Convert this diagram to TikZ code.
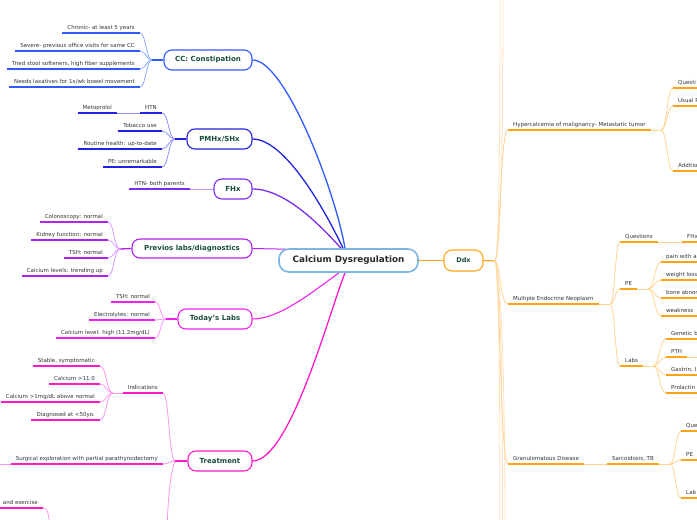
\documentclass[tikz,border=0pt]{standalone}
\usepackage{fontspec}
\setmainfont{DejaVu Sans}
\usetikzlibrary{calc,backgrounds}
\definecolor{tgreen}{HTML}{1B4D3E}
\definecolor{txt}{HTML}{333333}
\definecolor{txtD}{HTML}{2A2A2A}
\definecolor{cblue}{HTML}{2F5BFF}
\definecolor{cblueL}{HTML}{8FAAFF}
\definecolor{pblue}{HTML}{2222E0}
\definecolor{pblueL}{HTML}{9090FF}
\definecolor{fpur}{HTML}{7A2EF0}
\definecolor{fpurL}{HTML}{B890FF}
\definecolor{vpur}{HTML}{B022F0}
\definecolor{vpurL}{HTML}{D89AFF}
\definecolor{mag}{HTML}{EE22EE}
\definecolor{magL}{HTML}{FF96FF}
\definecolor{pink}{HTML}{FF1ACC}
\definecolor{pinkL}{HTML}{FF96EA}
\definecolor{orD}{HTML}{FFA31A}
\definecolor{orL}{HTML}{FFD394}
\definecolor{orLL}{HTML}{FFE2BA}
\definecolor{cenB}{HTML}{7DB6E3}
\begin{document}
\begin{tikzpicture}[x=1pt,y=-1pt,
  topic/.style={draw=#1, rounded corners=8pt, line width=1.1pt, fill=white, text=tgreen,
    font=\fontsize{7}{8}\selectfont\bfseries, inner sep=0pt, minimum height=20pt},
  sub/.style={font=\fontsize{5.5}{6.5}\selectfont, text=txt, inner xsep=5pt, inner ysep=2.2pt,
    text height=4.1pt, text depth=1.2pt,
    append after command={\pgfextra{\draw[line width=1.4pt,draw=#1] (\tikzlastnode.south west) -- (\tikzlastnode.south east);}}},
  cut/.style={text width=#1, align=left},
  cutr/.style={text width=#1, align=right},
  sc/.style={to path={let \p1=(\tikztostart), \p2=(\tikztotarget) in
    .. controls ({(\x1+\x2)/2},\y1) and ({(\x1+\x2)/2},\y2) .. (\tikztotarget)}},
  con/.style={draw=#1, line width=0.8pt},
  mainc/.style={draw=#1, line width=1.3pt},
]
\useasboundingbox (0,0) rectangle (697,520);
\clip (0,0) rectangle (697,520);

% ---------- main nodes ----------
\node[draw=cenB, line width=1.6pt, rounded corners=10pt, fill=white, minimum width=139pt,
  minimum height=23pt, inner sep=0pt, text=txtD, font=\fontsize{8.8}{10}\selectfont\bfseries]
  (cd) at (348.5,260.5) {Calcium Dysregulation};
\node[topic=orD, minimum width=39pt, minimum height=21pt, font=\fontsize{6.5}{8}\selectfont\bfseries]
  (ddx) at (463.5,260.5) {Ddx};
\node[topic=cblue, minimum width=88pt] (cc) at (208,60) {CC: Constipation};
\node[topic=pblue, minimum width=65pt] (pm) at (219.5,139) {PMHx/SHx};
\node[topic=fpur, minimum width=38pt] (fh) at (233,189) {FHx};
\node[topic=vpur, minimum width=120pt, minimum height=19pt] (pl) at (192,248.5) {Previos labs/diagnostics};
\node[topic=mag, minimum width=74pt] (tl) at (215,319) {Today\char39 s Labs};
\node[topic=pink, minimum width=64pt] (tr) at (220,461) {Treatment};

% ---------- CC ----------
\node[sub=cblue, anchor=south east] (cc1) at (140,33) {Chronic- at least 5 years};
\node[sub=cblue, anchor=south east] (cc2) at (140,51) {Severe- previous office visits for same CC};
\node[sub=cblue, anchor=south east] (cc3) at (140,69) {Tried stool softeners, high fiber supplements};
\node[sub=cblue, anchor=south east] (cc4) at (140,87) {Needs laxatives for 1x/wk bowel movement};
\coordinate (ccj) at (152,60);

% ---------- PMHx ----------
\node[sub=pblue, anchor=south east] (htn) at (162,113) {HTN};
\node[sub=pblue, anchor=south east] (meto) at (117,113) {Metoprolol};
\node[sub=pblue, anchor=south east] (tob) at (162,131) {Tobacco use};
\node[sub=pblue, anchor=south east] (rout) at (162,149) {Routine health: up-to-date};
\node[sub=pblue, anchor=south east] (pe1) at (162,167) {PE: unremarkable};
\coordinate (pmj) at (175,139);

% ---------- FHx ----------
\node[sub=fpur, anchor=south east] (fh1) at (190,189) {HTN- both parents};

% ---------- Previous labs ----------
\node[sub=vpur, anchor=south east] (pl1) at (108,222) {Colonoscopy: normal};
\node[sub=vpur, anchor=south east] (pl2) at (108,240) {Kidney function: normal};
\node[sub=vpur, anchor=south east] (pl3) at (108,258) {TSH: normal};
\node[sub=vpur, anchor=south east] (pl4) at (108,276) {Calcium levels: trending up};
\coordinate (plj) at (120,249);

% ---------- Today's labs ----------
\node[sub=mag, anchor=south east] (tl1) at (155,302) {TSH: normal};
\node[sub=mag, anchor=south east] (tl2) at (155,320) {Electrolytes: normal};
\node[sub=mag, anchor=south east] (tl3) at (155,338) {Calcium level: high (11.2mg/dL)};
\coordinate (tlj) at (166,319);

% ---------- Treatment ----------
\node[sub=pink, anchor=south east] (ind) at (163,393) {Indications};
\coordinate (indj) at (113,393);
\node[sub=pink, anchor=south east] (in1) at (100,366) {Stable, symptomatic};
\node[sub=pink, anchor=south east] (in2) at (100,384) {Calcium >11.0};
\node[sub=pink, anchor=south east] (in3) at (100,402) {Calcium >1mg/dL above normal};
\node[sub=pink, anchor=south east] (in4) at (100,420) {Diagnosed at <50yo.};
\node[sub=pink, anchor=south east] (surg) at (163,464) {Surgical exploration with partial parathyroidectomy};
\coordinate (surgc) at (-10,464);
\node[sub=pink, anchor=south east, cutr=50pt] (exer) at (43,508) {and exercise};
\coordinate (exd) at (50,530);
\coordinate (trj) at (175,461);
\coordinate (trd) at (167,530);

% ---------- Ddx ----------
\coordinate (ddxj) at (495,261);
\coordinate (up1) at (500,-10);
\coordinate (up2) at (503,-10);
\coordinate (dn1) at (500,530);
\coordinate (dn2) at (502.5,530);
\coordinate (dn3) at (505,530);

\node[sub=orD, anchor=south west] (hm) at (508,130) {Hypercalcemia of malignancy- Metastatic tumor};
\coordinate (hmj) at (661,130);
\node[sub=orD, anchor=south west, cut=40pt] (hm1) at (673,88) {Questi};
\node[sub=orD, anchor=south west, cut=40pt] (hm2) at (673,106) {Usual P};
\node[sub=orD, anchor=south west, cut=40pt] (hm3) at (673,171) {Additio};

\node[sub=orD, anchor=south west] (men) at (508,304) {Multiple Endocrine Neoplasm};
\coordinate (menj) at (610,304);
\node[sub=orD, anchor=south west] (mq) at (620,242) {Questions};
\node[sub=orD, anchor=south west, cut=40pt] (mfh) at (682,242) {FHx};
\node[sub=orD, anchor=south west] (mpe) at (620,289) {PE};
\coordinate (mpej) at (648,289);
\node[sub=orD, anchor=south west, cut=50pt] (pe1r) at (661,262) {pain with al};
\node[sub=orD, anchor=south west, cut=50pt] (pe2r) at (661,280) {weight loss};
\node[sub=orD, anchor=south west, cut=50pt] (pe3r) at (661,298) {bone abnor};
\node[sub=orD, anchor=south west, cut=50pt] (pe4r) at (661,316) {weakness};
\node[sub=orD, anchor=south west] (mlb) at (620,366) {Labs};
\coordinate (mlbj) at (653,366);
\node[sub=orD, anchor=south west, cut=50pt] (lb1) at (666,339) {Genetic b};
\node[sub=orD, anchor=south west] (lb2) at (666,357) {PTH};
\coordinate (lb2c) at (710,357);
\node[sub=orD, anchor=south west, cut=50pt] (lb3) at (666,375) {Gastrin, I};
\node[sub=orD, anchor=south west, cut=50pt] (lb4) at (666,393) {Prolactin};

\node[sub=orD, anchor=south west] (gd) at (508,464) {Granulomatous Disease};
\node[sub=orD, anchor=south west] (sar) at (607,464) {Sarcoidosis, TB};
\coordinate (sarj) at (670,464);
\node[sub=orD, anchor=south west, cut=40pt] (sr1) at (681,431) {Que};
\node[sub=orD, anchor=south west, cut=40pt] (sr2) at (681,460) {PE};
\node[sub=orD, anchor=south west, cut=40pt] (sr3) at (681,498) {Lab};

% ---------- connectors ----------
\begin{pgfonlayer}{background}
% centre to main topics
\draw[mainc=cblue] (cc.east) .. controls (285,60) and (335,190) .. ([xshift=-3.5pt]cd.north);
\draw[mainc=pblue] (pm.east) .. controls (285,139) and (325,210) .. ([xshift=-5.5pt]cd.north);
\draw[mainc=fpur] (fh.east) .. controls (285,189) and (320,225) .. ([xshift=-7.5pt]cd.north);
\draw[mainc=vpur, line width=1pt] (pl.east) -- ([xshift=8pt,yshift=-1pt]cd.north west);
\draw[mainc=mag, line width=1.1pt] (tl.east) .. controls (280,319) and (315,290) .. ([xshift=-9.5pt]cd.south);
\draw[mainc=pink] (tr.east) .. controls (290,461) and (330,310) .. ([xshift=-3.5pt]cd.south);
\draw[mainc=orD, line width=1pt] (cd.east) -- (ddx.west);

% CC
\foreach \k in {cc1,cc2,cc3,cc4} \draw[con=cblueL] (\k.south east) to[sc] (ccj);
\draw[con=cblue, line width=1.3pt] (ccj) -- (cc.west);
% PMHx
\draw[con=pblueL] (meto.south east) -- (htn.south west);
\foreach \k in {htn,tob,rout,pe1} \draw[con=pblueL] (\k.south east) to[sc] (pmj);
\draw[con=pblue, line width=1.3pt] (pmj) -- (pm.west);
% FHx
\draw[con=fpurL, line width=1pt] (fh1.south east) -- (fh.west);
% Previous labs
\foreach \k in {pl1,pl2,pl3,pl4} \draw[con=vpurL] (\k.south east) to[sc] (plj);
\draw[con=vpur, line width=1.3pt] (plj) -- (pl.west);
% Today's labs
\foreach \k in {tl1,tl2,tl3} \draw[con=magL] (\k.south east) to[sc] (tlj);
\draw[con=mag, line width=1.3pt] (tlj) -- (tl.west);
% Treatment
\foreach \k in {in1,in2,in3,in4} \draw[con=pinkL] (\k.south east) to[sc] (indj);
\draw[con=pinkL] (indj) -- (ind.south west);
\draw[con=pinkL] (ind.south east) to[sc] (trj);
\draw[con=pinkL] (surg.south east) to[sc] (trj);
\draw[con=pinkL] (surg.south west) -- (surgc);
\draw[con=pinkL] (trj) .. controls (171,470) and (168,495) .. (trd);
\draw[con=pinkL] (exer.south east) .. controls (47,508) and (49,512) .. (exd);
\draw[con=pink, line width=1.3pt] (trj) -- (tr.west);

% Ddx
\draw[con=orD, line width=1.2pt] (ddx.east) -- (ddxj);
\draw[con=orLL] (ddxj) .. controls (499,250) and (500,150) .. (up1);
\draw[con=orLL] (ddxj) .. controls (501,250) and (503,150) .. (up2);
\draw[con=orLL] (ddxj) .. controls (499,275) and (500,400) .. (dn1);
\draw[con=orLL] (ddxj) .. controls (501,275) and (502.5,400) .. (dn2);
\draw[con=orLL] (ddxj) .. controls (502,275) and (505,400) .. (dn3);
\draw[con=orL] (ddxj) .. controls (500,261) and (500,130) .. (hm.south west);
\draw[con=orL] (ddxj) .. controls (500,261) and (500,304) .. (men.south west);
\draw[con=orL] (ddxj) .. controls (500,261) and (500,464) .. (gd.south west);

\draw[con=orL] (hm.south east) -- (hmj);
\foreach \k in {hm1,hm2,hm3} \draw[con=orL] (hmj) to[sc] (\k.south west);

\draw[con=orL] (men.south east) -- (menj);
\foreach \k in {mq,mpe,mlb} \draw[con=orL] (menj) to[sc] (\k.south west);
\draw[con=orL] (mq.south east) -- (mfh.south west);
\draw[con=orL] (mpe.south east) -- (mpej);
\foreach \k in {pe1r,pe2r,pe3r,pe4r} \draw[con=orL] (mpej) to[sc] (\k.south west);
\draw[con=orL] (mlb.south east) -- (mlbj);
\foreach \k in {lb1,lb2,lb3,lb4} \draw[con=orL] (mlbj) to[sc] (\k.south west);
\draw[con=orL] (lb2.south east) -- (lb2c);

\draw[con=orL] (gd.south east) -- (sar.south west);
\draw[con=orL] (sar.south east) -- (sarj);
\foreach \k in {sr1,sr2,sr3} \draw[con=orL] (sarj) to[sc] (\k.south west);
\end{pgfonlayer}
\end{tikzpicture}
\end{document}
